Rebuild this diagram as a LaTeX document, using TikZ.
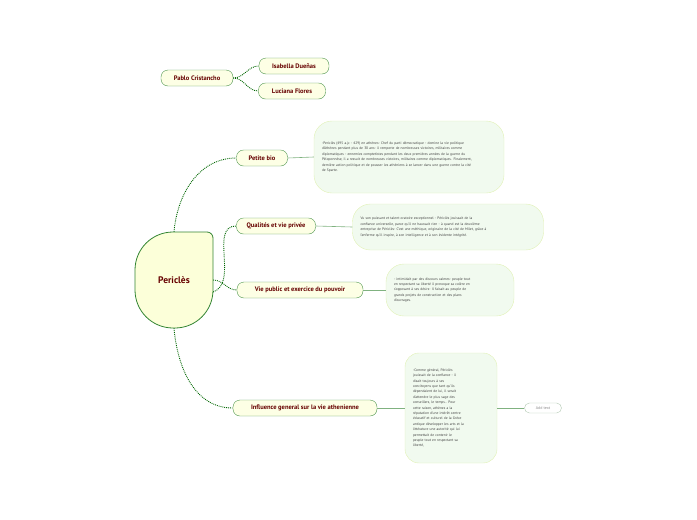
\documentclass[tikz,border=0pt]{standalone}
\usepackage{fontspec}
\setmainfont{PT Sans}
\begin{document}
\begin{tikzpicture}[x=1pt,y=-1pt,
 br/.style={draw=green!40!black!70,fill=green!8!yellow!10,rounded corners=7pt,font=\bfseries\fontsize{6.5}{7}\selectfont,text=red!40!black,minimum height=16pt,inner xsep=4pt},
 tb/.style={draw=yellow!60!green!30,fill=yellow!8!green!6,rounded corners=18pt,font=\fontsize{3.6}{5.4}\selectfont,text=black!75,align=left,inner sep=8pt},
 con/.style={draw=green!40!black,densely dotted,line width=0.9pt},
 lin/.style={draw=green!40!black!50,line width=0.6pt}]
\useasboundingbox (0,0) rectangle (697,520);
\node[minimum width=78pt,minimum height=96pt] (p) at (174,280) {};
\draw[draw=green!40!black!80,fill=green!8!yellow!15,line width=0.8pt] (135,270) .. controls (135,249) and (152,232) .. (173,232) -- (207,232) .. controls (210.3,232) and (213,234.7) .. (213,238) -- (213,290) .. controls (213,311) and (196,328) .. (175,328) -- (173,328) .. controls (152,328) and (135,311) .. (135,290) -- cycle;
\node[font=\bfseries\fontsize{9.5}{11}\selectfont,text=red!40!black] (pt) at (p.center) {Periclès};
\node[br,minimum width=72pt] (pc) at (197,78) {Pablo Cristancho};
\node[br,minimum width=70pt] (id) at (294,66) {Isabella Dueñas};
\node[br,minimum width=67pt] (lf) at (292,91) {Luciana Flores};
\node[br,minimum width=51pt] (pb) at (262,158) {Petite bio};
\node[br,minimum width=79pt] (qv) at (276,226) {Qualités et vie privée};
\node[br,minimum width=126pt] (vp) at (300,290) {Vie public et exercice du pouvoir};
\node[br,minimum width=144pt] (ig) at (305,408) {Influence general sur la vie athenienne};
\node[tb,text width=174pt,minimum height=72pt] (t1) at (409,157) {-Periclès (495 a.jc - 429) en athènes- Chef du parti démocratique -  domine la vie politique\\d'Athènes pendant plus de 30 ans- il remporte de nombreuses victoires, militaires comme\\diplomatiques - ennemies comptetistes pendant les deux premières années de la guerre du\\Péloponnèse, il a ressuit de nombreuses victoires, militaires comme diplomatiques. Finalement,\\dernière action politique et de pousser les athéniens à se lancer dans une guerre contre la cité\\de Sparte.};
\node[tb,text width=175pt,minimum height=46pt] (t2) at (448,227) {Vu son puissant et talent oratoire exceptionnel - Périclès jouissait de la\\confiance universelle, parce qu'il ne haussait rien -  à quand est la deuxième\\entreprise de Périclès-  C'est une méthique, originaire de la cité de Milet, grâce à\\l'enferme qu'il inspire, à son intelligence et à son évidente intégrité.};
\node[tb,text width=112pt,minimum height=52pt] (t3) at (450,290) {- intimidait par des discours calmes- peuple tout\\en respectant sa liberté il provoque sa colère en\\s'opposant à ses désirs- Il faisait au peuple de\\grands projets de construction et des plans\\d'ouvrages.};
\node[tb,text width=76pt,minimum height=110pt,rounded corners=14pt] (t4) at (451,408) {-Comme général, Périclès\\jouissait de la confiance - il\\disait toujours à ses\\concitoyens que tant qu'ils\\dépendaient de lui, il serait\\d'attendre le plus sage des\\conseillers, le temps.. Pour\\cette raison, athènes a la\\réputation d'une intérêt centre\\éducatif et culturel de la Grèce\\antique développer les arts et la\\littérature une autorité qui lui\\permettait de contenir le\\peuple tout en respectant sa\\liberté,};
\node[draw=green!30!black!30,fill=white,rounded corners=5pt,font=\fontsize{4}{5}\selectfont,text=black!45,minimum width=37pt,minimum height=10pt] (ad) at (543,408) {Add text};
\coordinate (q0) at ([yshift=-12pt]p.east);
\draw[con] (pc.east) to[out=0,in=180] (id.west);
\draw[con] (pc.east) to[out=0,in=180] (lf.west);
\draw[con] (p.north) to[out=85,in=180] (pb.west);
\draw[con] (q0) to[out=20,in=180] (qv.west);
\draw[con] (p.east) to[out=0,in=180] (vp.west);
\draw[con] (p.south) to[out=-85,in=180] (ig.west);
\draw[lin] (pb.east) -- (t1.west);
\draw[lin] (qv.east) -- (t2.west);
\draw[lin] (vp.east) -- (t3.west);
\draw[lin] (ig.east) -- (t4.west);
\draw[lin] (t4.east) -- (ad.west);
\end{tikzpicture}
\end{document}
